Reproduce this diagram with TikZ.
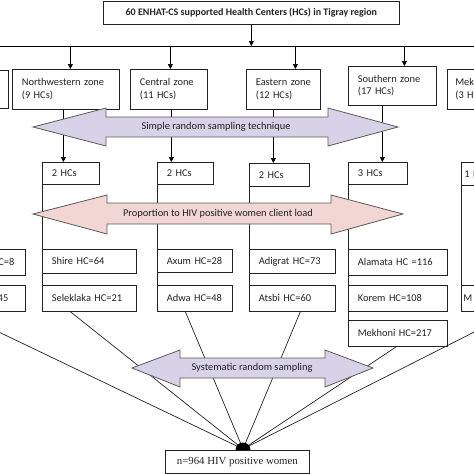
\documentclass[tikz,border=0pt]{standalone}
\usepackage{fontspec}
\setmainfont{Carlito}
\newfontfamily\serifface{Liberation Serif}
\usetikzlibrary{arrows.meta,positioning,calc}
\definecolor{srsLav}{HTML}{D8D2E8}
\definecolor{ppsPink}{HTML}{F1D6D3}
\definecolor{inkGray}{HTML}{222222}

\begin{document}
\begin{tikzpicture}[x=1pt, y=-1pt, line width=0.7pt,
  box/.style={draw=inkGray, anchor=north west, align=left, inner xsep=9.5pt, inner ysep=0pt,
    text=inkGray, font=\fontsize{10.4}{12.5}\selectfont, text width=#1},
  arr/.style={-{Triangle[length=5pt,width=5pt]}},
  fatarrow/.style={draw=black!65, line width=0.8pt},
  fatlabel/.style={text=inkGray, font=\fontsize{10.4}{12.5}\selectfont}]
  \useasboundingbox (0,0) rectangle (474,474);
  \clip (0,0) rectangle (474,474);
  % region
  \node[draw=inkGray, anchor=north west, minimum width=296, minimum height=23, text=inkGray,
    font=\bfseries\fontsize{10}{12}\selectfont] (top) at (103,1)
    {60 ENHAT-CS supported Health Centers (HCs) in Tigray region};
  \coordinate (bus) at (0,46);
  \draw[arr] (top.south) -- (top.south |- bus);
  \draw ([xshift=-5pt]bus) -- ([xshift=480pt]bus);
  % zones (outer ones run off the edge)
  \node[box=89pt, minimum height=38] (west) at (-100,70) {};
  \node[box=88pt, minimum height=40] (nw) at (12,69) {Northwestern zone\\(9 HCs)};
  \node[box=58pt, minimum height=40] (central) at (130,69) {Central zone\\(11 HCs)};
  \node[box=55pt, minimum height=40] (eastern) at (246,69) {Eastern zone\\(12 HCs)};
  \node[box=69pt, minimum height=39] (southern) at (348,66) {Southern zone\\(17 HCs)};
  \node[box=84pt, minimum height=40, inner xsep=8pt] (mekelle) at (447,69) {Mekelle zone\\(3 HCs)};
  \foreach \z/\dx in {nw/4.5, central/1.5, eastern/12, southern/12} {
    \path ([xshift=\dx pt]\z.north) coordinate (\z-in);
    \draw[arr] (\z-in |- bus) -- (\z-in);
  }
  % selected HCs per zone
  \node[box=38pt, minimum height=22] (s1) at (42,162) {2 HCs};
  \node[box=37pt, minimum height=22] (s2) at (157,162) {2 HCs};
  \node[box=41pt, minimum height=23] (s3) at (249,163) {2 HCs};
  \node[box=40pt, minimum height=22] (s4) at (348,162) {3 HCs};
  \node[box=102pt, minimum height=23, inner xsep=3pt] (s5) at (461,162) {1 HC};
  \foreach \z/\s/\dx in {nw/s1/-2.5, central/s2/2.5, eastern/s3/-10, southern/s4/-10} {
    \path ([xshift=\dx pt]\z.south) coordinate (\z-out);
    \draw[arr] (\z-out) -- (\z-out |- \s.north);
  }
  % health centers
  \node[box=116pt, minimum height=26, align=right, inner xsep=11pt] (w1) at (-113,249) {HC=8};
  \node[box=104pt, minimum height=26, align=right, inner xsep=17pt] (w2) at (-113,285) {HC=45};
  \node[box=75pt, minimum height=24] (shire) at (42,249) {Shire HC=64};
  \node[box=75pt, minimum height=26] (sel) at (42,285) {Seleklaka HC=21};
  \node[box=56pt, minimum height=23] (axum) at (157,249) {Axum HC=28};
  \node[box=56pt, minimum height=26] (adwa) at (157,285) {Adwa HC=48};
  \node[box=67pt, minimum height=24] (adigrat) at (249,249) {Adigrat HC=73};
  \node[box=67pt, minimum height=26] (atsbi) at (249,285) {Atsbi HC=60};
  \node[box=80pt, minimum height=26] (alamata) at (348,249) {Alamata HC =116};
  \node[box=80pt, minimum height=26] (korem) at (348,285) {Korem HC=108};
  \node[box=80pt, minimum height=26] (mekhoni) at (348,320) {Mekhoni HC=217};
  \node[box=102pt, minimum height=26, inner xsep=2pt] (mk1) at (461,285) {M};
  \foreach \s/\e in {s1/sel, s2/adwa, s3/atsbi, s4/mekhoni, s5/mk1}
    \draw[draw=inkGray] (\s.south west) -- (\e.north west);
  % total sample
  \node[draw=inkGray, anchor=north west, minimum width=144, minimum height=23, text=inkGray,
    font=\serifface\fontsize{10.8}{13}\selectfont] (total) at (165,450) {n=964 HIV positive women};
  \coordinate (apex) at (243,449);
  \foreach \b/\dx in {w2/0, sel/-19, adwa/-9.5, atsbi/8, mekhoni/-1.5, mk1/0}
    \draw[draw=inkGray] ([xshift=\dx pt]\b.south) -- (apex);
  \fill[black] (235.5,450) arc[start angle=180, end angle=360, radius=7.5] -- cycle;
  % sampling steps
  \draw[fatarrow, fill=srsLav] (33,127) -- (106,108) -- (106,117) -- (328,117) -- (328,108) -- (398,127)
    -- (328,146) -- (328,137) -- (106,137) -- (106,146) -- cycle;
  \node[fatlabel] (srs) at (216,127) {Simple random sampling technique};
  \draw[fatarrow, fill=ppsPink] (33,214) -- (107,195) -- (107,203) -- (331,203) -- (331,195) -- (403,214)
    -- (331,234) -- (331,224) -- (107,224) -- (107,234) -- cycle;
  \node[fatlabel] (pps) at (218,214) {Proportion to HIV positive women client load};
  \draw[fatarrow, fill=srsLav] (132,368) -- (180,350) -- (180,358) -- (325,358) -- (325,350) -- (373,368)
    -- (325,387) -- (325,378) -- (180,378) -- (180,387) -- cycle;
  \node[fatlabel] (sys) at (252,368) {Systematic random sampling};
\end{tikzpicture}
\end{document}
